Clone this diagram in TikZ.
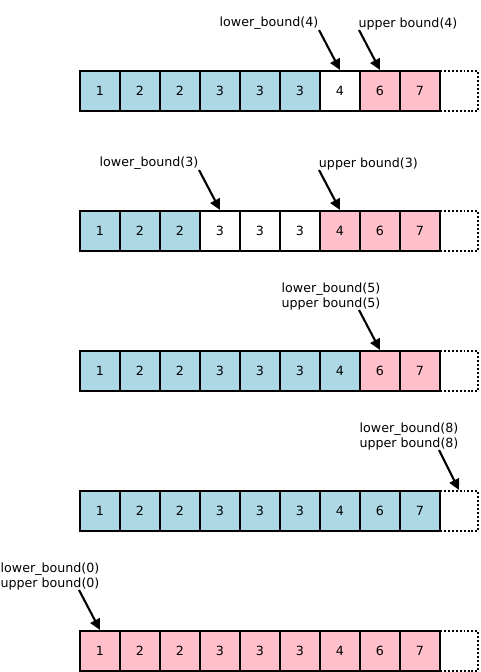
\documentclass[tikz,border=0pt]{standalone}
\usepackage{fontspec}
\setmainfont{DejaVu Sans}
\usetikzlibrary{positioning,arrows.meta}
\definecolor{cellblue}{RGB}{173,216,230}
\definecolor{cellpink}{RGB}{255,192,203}

\begin{document}
\begin{tikzpicture}[
  cell node/.style={rectangle,draw,line width=1.4pt,minimum width=1cm,minimum height=1cm,inner sep=0pt,font=\fontsize{9}{11}\selectfont},
  end node/.style={cell node,dash pattern=on 1.4pt off 1.4pt,minimum width=0.95cm},
  text node/.style={align=center,inner sep=0pt,font=\fontsize{9}{11}\selectfont},
  ptr/.style={line width=1.5pt,-{Triangle[length=2.7mm,width=2.6mm]}}]

  \useasboundingbox (0,0) rectangle (12,16.8);

  % row 1: bounds of 4
  \foreach \v/\c [count=\i] in {1/cellblue,2/cellblue,2/cellblue,3/cellblue,3/cellblue,3/cellblue,4/white,6/cellpink,7/cellpink}
    \node[cell node,fill=\c] (r1c\i) at (1.5+\i,14.525) {\v};
  \node[end node] (r1e) at (11.475,14.525) {};

  % row 2: bounds of 3
  \foreach \v/\c [count=\i] in {1/cellblue,2/cellblue,2/cellblue,3/white,3/white,3/white,4/cellpink,6/cellpink,7/cellpink}
    \node[cell node,fill=\c] (r2c\i) at (1.5+\i,11.025) {\v};
  \node[end node] (r2e) at (11.475,11.025) {};

  % row 3: bounds of 5
  \foreach \v/\c [count=\i] in {1/cellblue,2/cellblue,2/cellblue,3/cellblue,3/cellblue,3/cellblue,4/cellblue,6/cellpink,7/cellpink}
    \node[cell node,fill=\c] (r3c\i) at (1.5+\i,7.525) {\v};
  \node[end node] (r3e) at (11.475,7.525) {};

  % row 4: bounds of 8
  \foreach \v [count=\i] in {1,2,2,3,3,3,4,6,7}
    \node[cell node,fill=cellblue] (r4c\i) at (1.5+\i,4.025) {\v};
  \node[end node] (r4e) at (11.475,4.025) {};

  % row 5: bounds of 0
  \foreach \v [count=\i] in {1,2,2,3,3,3,4,6,7}
    \node[cell node,fill=cellpink] (r5c\i) at (1.5+\i,0.525) {\v};
  \node[end node] (r5e) at (11.475,0.525) {};

  % labels
  \node[text node] (lb4) at (6.725,16.21) {lower\_bound(4)};
  \node[text node] (ub4) at (10.2,16.21) {upper bound(4)};
  \node[text node] (lb3) at (3.725,12.71) {lower\_bound(3)};
  \node[text node] (ub3) at (9.21,12.71) {upper bound(3)};
  \node[text node] (b5) at (8.275,9.39) {lower\_bound(5)\\upper bound(5)};
  \node[text node] (b8) at (10.225,5.89) {lower\_bound(8)\\upper bound(8)};
  \node[text node] (b0) at (1.25,2.39) {lower\_bound(0)\\upper bound(0)};

  % arrow tails
  \coordinate[above=1cm of r1c7.north west] (t1a);
  \coordinate[above=1cm of r1c8.north west] (t1b);
  \coordinate[above=1cm of r2c4.north west] (t2a);
  \coordinate[above=1cm of r2c7.north west] (t2b);
  \coordinate[above=1cm of r3c8.north west] (t3);
  \coordinate[above=1cm of r4e.north west] (t4);
  \coordinate[above=1cm of r5c1.north west] (t5);

  \draw[ptr] (t1a) -- (r1c7.north);
  \draw[ptr] (t1b) -- (r1c8.north);
  \draw[ptr] (t2a) -- (r2c4.north);
  \draw[ptr] (t2b) -- (r2c7.north);
  \draw[ptr] (t3) -- (r3c8.north);
  \draw[ptr] (t4) -- (r4e.north);
  \draw[ptr] (t5) -- (r5c1.north);
\end{tikzpicture}
\end{document}
